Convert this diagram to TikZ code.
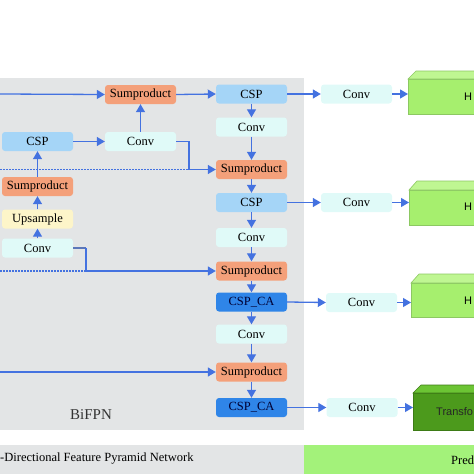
\documentclass[tikz,border=0pt]{standalone}
\usepackage{fontspec}
\setmainfont{Liberation Serif}
\newfontfamily\headfont{Liberation Sans}
\usetikzlibrary{arrows.meta}
\definecolor{bgGray}{HTML}{E3E5E6}
\definecolor{sumCol}{HTML}{F4A07A}
\definecolor{cspCol}{HTML}{A5D5F7}
\definecolor{convCol}{HTML}{E0FAF8}
\definecolor{upCol}{HTML}{FDF5C9}
\definecolor{cspcaCol}{HTML}{2F85E8}
\definecolor{arrCol}{HTML}{4472E0}
\definecolor{headFront}{HTML}{A6EF6E}
\definecolor{headTop}{HTML}{BFF692}
\definecolor{headEdge}{HTML}{8CC862}
\definecolor{trFront}{HTML}{4C9A1C}
\definecolor{trTop}{HTML}{6CC434}
\definecolor{predCol}{HTML}{A3F27A}
\tikzset{
  blk/.style={rounded corners=3pt, minimum width=71pt, minimum height=19pt, inner sep=0pt,
    font=\fontsize{12.5}{12.5}\selectfont, text=black},
  sumbox/.style={blk, fill=sumCol},
  cspbox/.style={blk, fill=cspCol},
  convbox/.style={blk, fill=convCol},
  upbox/.style={blk, fill=upCol},
  cspcabox/.style={blk, fill=cspcaCol, text=black!80!blue},
  arr/.style={draw=arrCol, line width=1.3pt, -{Triangle[length=8pt,width=9pt]}},
  lnk/.style={draw=arrCol, line width=1.3pt},
  dotl/.style={draw=arrCol, line width=1.3pt, dash pattern=on 1.5pt off 1.5pt},
  headbox/.style={draw=headEdge, line width=0.6pt, fill=headFront, inner sep=0pt, anchor=north west, minimum width=80pt},
  trbox/.style={draw=trFront!80!black, line width=0.6pt, fill=trFront, inner sep=0pt, anchor=north west, minimum width=80pt},
  headlbl/.style={font=\headfont\fontsize{11}{11}\selectfont, anchor=west, inner sep=0pt}
}
\begin{document}
\begin{tikzpicture}[x=1pt,y=-1pt]
\useasboundingbox (0,0) rectangle (474,474);
% backgrounds
\fill[bgGray] (0,78) rectangle (304,430);
\fill[bgGray] (0,445) rectangle (304,474);
\fill[predCol] (304,445) rectangle (480,474);
\node[anchor=west, inner sep=0pt, font=\fontsize{12.5}{12.5}\selectfont] (lblbottom) at (0,459) {-Directional Feature Pyramid Network};
\node[anchor=west, inner sep=0pt, font=\fontsize{12.5}{12.5}\selectfont] (lblpred) at (451,460) {Pred};
\node[font=\fontsize{15}{15}\selectfont, text=black!80] (lblbifpn) at (91,415) {BiFPN};

% middle column
\node[cspbox] (m1) at (251.5,94) {CSP};
\node[convbox] (m2) at (251.5,127) {Conv};
\node[sumbox] (m3) at (251.5,169.5) {Sumproduct};
\node[cspbox] (m4) at (251.5,202.5) {CSP};
\node[convbox] (m5) at (251.5,237.5) {Conv};
\node[sumbox] (m6) at (251.5,271) {Sumproduct};
\node[cspcabox] (m7) at (251.5,302) {CSP\_CA};
\node[convbox] (m8) at (251.5,334) {Conv};
\node[sumbox] (m9) at (251.5,372) {Sumproduct};
\node[cspcabox] (m10) at (251.5,407.5) {CSP\_CA};

% left part
\node[sumbox] (ls) at (140.5,94.5) {Sumproduct};
\node[cspbox] (lc) at (37.5,141.5) {CSP};
\node[convbox] (lv) at (140.5,141.5) {Conv};
\node[sumbox] (ls2) at (37.5,186.5) {Sumproduct};
\node[upbox] (lu) at (37.5,219) {Upsample};
\node[convbox] (lv2) at (37.5,248) {Conv};

% right convs
\node[convbox] (r1) at (356.5,94) {Conv};
\node[convbox] (r2) at (356.5,202.5) {Conv};
\node[convbox] (r3) at (361.5,302.5) {Conv};
\node[convbox] (r4) at (362,407.5) {Conv};

% heads (3D boxes)
\node[headbox, minimum height=35pt] (h1) at (408,79) {};
\fill[headTop, draw=headEdge, line width=0.6pt] (h1.north west) -- ++(8,-8) -- ++(80,0) -- (h1.north east) -- cycle;
\node[headlbl] (h1t) at (464,97) {H};
\node[headbox, minimum height=35pt] (h2) at (409,190) {};
\fill[headTop, draw=headEdge, line width=0.6pt] (h2.north west) -- ++(8,-9) -- ++(80,0) -- (h2.north east) -- cycle;
\node[headlbl] (h2t) at (464,207) {H};
\node[headbox, minimum height=34pt] (h3) at (411,283) {};
\fill[headTop, draw=headEdge, line width=0.6pt] (h3.north west) -- ++(8,-9) -- ++(80,0) -- (h3.north east) -- cycle;
\node[headlbl] (h3t) at (464,301) {H};
\node[trbox, minimum height=37pt] (h4) at (413,393) {};
\fill[trTop, draw=trFront!80!black, line width=0.6pt] (h4.north west) -- ++(8,-8) -- ++(80,0) -- (h4.north east) -- cycle;
\node[headlbl, text=black!85] (h4t) at (436,412) {Transfo};

% coordinates for free ends
\coordinate (e1) at (0,94);
\coordinate (e2) at (0,169.5);
\coordinate (e3) at (0,271);
\coordinate (e4) at (0,372);
\coordinate (k1) at (189,141.5);
\coordinate (k1b) at (189,169.5);
\coordinate (k2) at (86,248);
\coordinate (k2b) at (86,271);

% left arrows
\draw[arr] (e1) -- (ls.west);
\draw[arr] (ls.east) -- (m1.west);
\draw[arr] (lv.north) -- (ls.south);
\draw[arr] (lc.east) -- (lv.west);
\draw[dotl] (e2) -- (k1b);
\draw[dotl] (e3) -- (k2b);
\draw[arr] (ls2.north) -- (lc.south);
\draw[arr] (lu.north) -- (ls2.south);
\draw[arr] (lv2.north) -- (lu.south);
\draw[lnk] (lv.east) -- (k1) -- (k1b);
\draw[arr] (k1b) -- (m3.west);
\draw[lnk, draw=arrCol!60!gray] (lv2.east) -- (k2);
\draw[lnk] (k2) -- (k2b);
\draw[arr] (k2b) -- (m6.west);
\draw[arr] (e4) -- (m9.west);

% middle column arrows
\draw[arr] (m1) -- (m2);
\draw[arr] (m2) -- (m3);
\draw[arr] (m3) -- (m4);
\draw[arr] (m4) -- (m5);
\draw[arr] (m5) -- (m6);
\draw[arr] (m6) -- (m7);
\draw[arr] (m7) -- (m8);
\draw[arr] (m8) -- (m9);
\draw[arr] (m9) -- (m10);

% to right
\draw[arr] (m1.east) -- (r1.west);
\draw[arr] (m4.east) -- (r2.west);
\draw[arr] (m7.east) -- (r3.west);
\draw[arr] (m10.east) -- (r4.west);
\draw[arr] (r1.east) -- (h1.west |- r1.east);
\draw[arr] (r2.east) -- (h2.west |- r2.east);
\draw[arr] (r3.east) -- (h3.west |- r3.east);
\draw[arr] (r4.east) -- (h4.west |- r4.east);
\end{tikzpicture}
\end{document}
